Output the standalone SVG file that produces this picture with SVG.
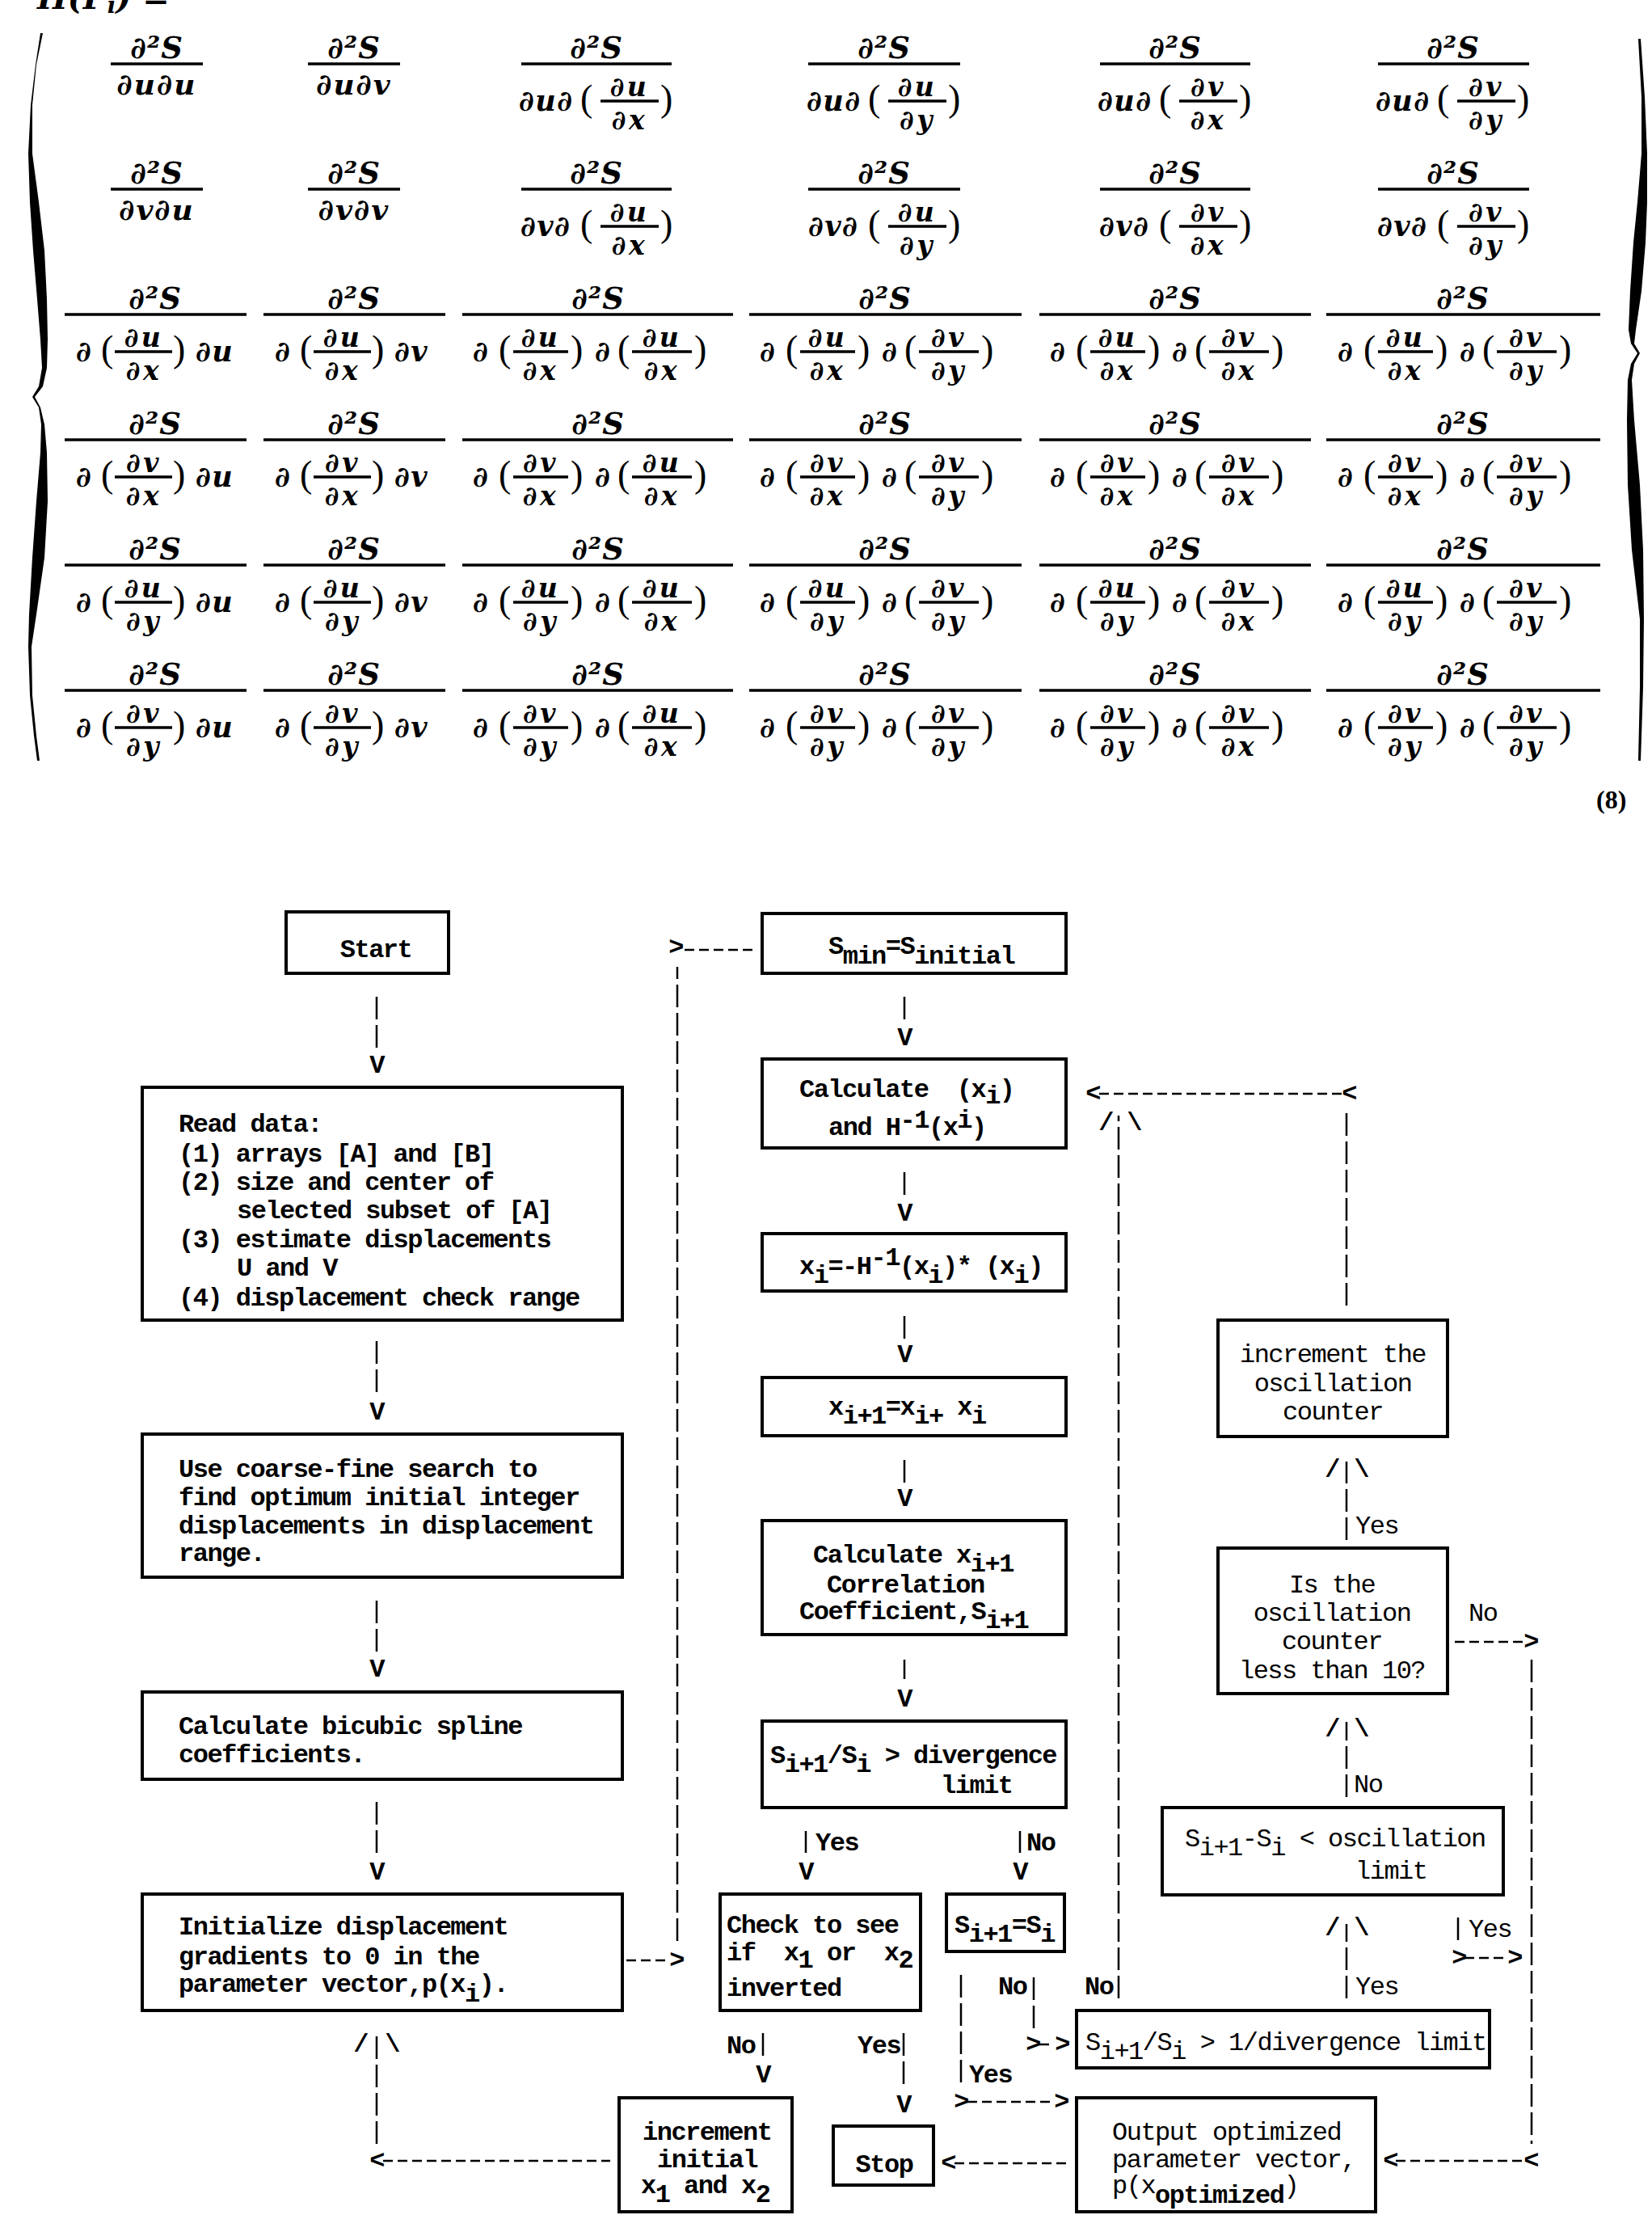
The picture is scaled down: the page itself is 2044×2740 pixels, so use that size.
<svg xmlns="http://www.w3.org/2000/svg" width="2044" height="2740" viewBox="0 0 2044 2740">
<style>
.n{font-family:"DejaVu Serif",serif;font-style:italic;font-weight:bold;font-size:37px;letter-spacing:1px;text-anchor:middle}
.d{font-family:"DejaVu Serif",serif;font-style:italic;font-weight:bold;font-size:35px;letter-spacing:1.5px}
.dm{font-family:"DejaVu Serif",serif;font-style:italic;font-weight:bold;font-size:36px;letter-spacing:2px;text-anchor:middle}
.i{font-family:"DejaVu Serif",serif;font-style:italic;font-weight:bold;font-size:33px;letter-spacing:3.5px;text-anchor:middle}
.p{font-family:"Liberation Serif",serif;font-style:normal;font-weight:normal;font-size:46px;letter-spacing:0}
.b{stroke:#000;stroke-width:3.5;fill:none}
.t{font-family:"Liberation Mono",monospace;font-size:32px;letter-spacing:-1.5px;font-weight:bold;fill:#000}
.tn{font-family:"Liberation Mono",monospace;font-size:32px;letter-spacing:-1.5px;font-weight:normal;fill:#000}
.c{text-anchor:middle}
.bx{fill:none;stroke:#000;stroke-width:4}
.dv{fill:none;stroke:#000;stroke-width:2.5;stroke-dasharray:28 7}
.dh{fill:none;stroke:#000;stroke-width:2.5;stroke-dasharray:12 6}
</style>
<rect x="0" y="0" width="2044" height="2740" fill="#fff"/>

<g id="matrix">
<text x="46" y="11" style="font-family:'DejaVu Serif',serif;font-style:italic;font-weight:bold;font-size:40px">H(P<tspan dy="5" font-size="28">i</tspan><tspan dy="-5">) =</tspan></text>
<path id="brace-left" fill="#000" d="M50 41 L44 80 L38 130 L35 190 L37 250 L41 310 L46 370 L50 420 L52 455 L48 478 L40 491 L48 504 L51 525 L50 560 L45 620 L40 690 L36 760 L35 800 L37 860 L42 910 L46 941 L49 941 L45 910 L40 860 L39 800 L45 760 L55 690 L59 620 L58 560 L55 525 L50 504 L43 491 L53 478 L58 455 L59 420 L58 370 L55 310 L48 250 L40 190 L40 130 L45 80 L53 41 Z"/>
<path id="brace-right" fill="#000" d="M2030 48 L2035 120 L2038 190 L2038 250 L2036 300 L2031 360 L2024 408 L2022 425 L2029 437 L2022 450 L2019 470 L2022 520 L2029 600 L2033 680 L2034 766 L2033 850 L2030 941 L2027 941 L2029 850 L2029 766 L2019 680 L2014 600 L2013 520 L2014 470 L2018 450 L2026 437 L2018 425 L2015 408 L2017 360 L2021 300 L2026 250 L2031 190 L2031 120 L2027 48 Z"/>
<text x="1975" y="1000" style="font-family:'Liberation Serif',serif;font-weight:bold;font-size:32px">(8)</text>

<g id="m11" transform="translate(194,79)"><path class="b" d="M-57 0H57"/><text class="n" y="-7">∂²S</text><text class="dm" y="38">∂u∂u</text></g>
<g id="m12" transform="translate(438,79)"><path class="b" d="M-57 0H57"/><text class="n" y="-7">∂²S</text><text class="dm" y="38">∂u∂v</text></g>
<g id="m13" transform="translate(738,79)"><path class="b" d="M-93 0H93M5 46H77"/><text class="n" y="-7">∂²S</text><text class="d" y="58"><tspan x="-96">∂u∂</tspan><tspan class="p" x="-20">(</tspan><tspan class="p" x="79">)</tspan></text><text class="i" x="41" y="40">∂u</text><text class="i" x="41" y="81">∂x</text></g>
<g id="m14" transform="translate(1094,79)"><path class="b" d="M-94 0H94M5 46H77"/><text class="n" y="-7">∂²S</text><text class="d" y="58"><tspan x="-96">∂u∂</tspan><tspan class="p" x="-20">(</tspan><tspan class="p" x="79">)</tspan></text><text class="i" x="41" y="40">∂u</text><text class="i" x="41" y="81">∂y</text></g>
<g id="m15" transform="translate(1454,79)"><path class="b" d="M-93 0H93M5 46H77"/><text class="n" y="-7">∂²S</text><text class="d" y="58"><tspan x="-96">∂u∂</tspan><tspan class="p" x="-20">(</tspan><tspan class="p" x="79">)</tspan></text><text class="i" x="41" y="40">∂v</text><text class="i" x="41" y="81">∂x</text></g>
<g id="m16" transform="translate(1798,79)"><path class="b" d="M-93 0H94M5 46H77"/><text class="n" y="-7">∂²S</text><text class="d" y="58"><tspan x="-96">∂u∂</tspan><tspan class="p" x="-20">(</tspan><tspan class="p" x="79">)</tspan></text><text class="i" x="41" y="40">∂v</text><text class="i" x="41" y="81">∂y</text></g>

<g id="m21" transform="translate(194,234)"><path class="b" d="M-57 0H57"/><text class="n" y="-7">∂²S</text><text class="dm" y="38">∂v∂u</text></g>
<g id="m22" transform="translate(438,234)"><path class="b" d="M-57 0H57"/><text class="n" y="-7">∂²S</text><text class="dm" y="38">∂v∂v</text></g>
<g id="m23" transform="translate(738,234)"><path class="b" d="M-93 0H93M5 46H77"/><text class="n" y="-7">∂²S</text><text class="d" y="58"><tspan x="-94">∂v∂</tspan><tspan class="p" x="-20">(</tspan><tspan class="p" x="79">)</tspan></text><text class="i" x="41" y="40">∂u</text><text class="i" x="41" y="81">∂x</text></g>
<g id="m24" transform="translate(1094,234)"><path class="b" d="M-94 0H94M5 46H77"/><text class="n" y="-7">∂²S</text><text class="d" y="58"><tspan x="-94">∂v∂</tspan><tspan class="p" x="-20">(</tspan><tspan class="p" x="79">)</tspan></text><text class="i" x="41" y="40">∂u</text><text class="i" x="41" y="81">∂y</text></g>
<g id="m25" transform="translate(1454,234)"><path class="b" d="M-93 0H93M5 46H77"/><text class="n" y="-7">∂²S</text><text class="d" y="58"><tspan x="-94">∂v∂</tspan><tspan class="p" x="-20">(</tspan><tspan class="p" x="79">)</tspan></text><text class="i" x="41" y="40">∂v</text><text class="i" x="41" y="81">∂x</text></g>
<g id="m26" transform="translate(1798,234)"><path class="b" d="M-93 0H94M5 46H77"/><text class="n" y="-7">∂²S</text><text class="d" y="58"><tspan x="-94">∂v∂</tspan><tspan class="p" x="-20">(</tspan><tspan class="p" x="79">)</tspan></text><text class="i" x="41" y="40">∂v</text><text class="i" x="41" y="81">∂y</text></g>

<g id="m31" transform="translate(192,389)"><path class="b" d="M-112 0H113M-50 46H21"/><text class="n" y="-7">∂²S</text><text class="d" y="58"><tspan x="-98">∂</tspan><tspan class="p" x="-67">(</tspan><tspan class="p" x="22">)</tspan><tspan x="50">∂u</tspan></text><text class="i" x="-14" y="40">∂u</text><text class="i" x="-14" y="81">∂x</text></g>
<g id="m32" transform="translate(438,389)"><path class="b" d="M-112 0H113M-50 46H21"/><text class="n" y="-7">∂²S</text><text class="d" y="58"><tspan x="-98">∂</tspan><tspan class="p" x="-67">(</tspan><tspan class="p" x="22">)</tspan><tspan x="50">∂v</tspan></text><text class="i" x="-14" y="40">∂u</text><text class="i" x="-14" y="81">∂x</text></g>
<g id="m33" transform="translate(740,389)"><path class="b" d="M-168 0H167M-105 46H-37M42 46H116"/><text class="n" y="-7">∂²S</text><text class="d" y="58"><tspan x="-155">∂</tspan><tspan class="p" x="-123">(</tspan><tspan class="p" x="-34">)</tspan><tspan x="-4">∂</tspan><tspan class="p" x="24">(</tspan><tspan class="p" x="119">)</tspan></text><text class="i" y="40"><tspan x="-71">∂u</tspan><tspan x="79">∂u</tspan></text><text class="i" y="81"><tspan x="-71">∂x</tspan><tspan x="79">∂x</tspan></text></g>
<g id="m34" transform="translate(1095,389)"><path class="b" d="M-168 0H169M-105 46H-37M42 46H116"/><text class="n" y="-7">∂²S</text><text class="d" y="58"><tspan x="-155">∂</tspan><tspan class="p" x="-123">(</tspan><tspan class="p" x="-34">)</tspan><tspan x="-4">∂</tspan><tspan class="p" x="24">(</tspan><tspan class="p" x="119">)</tspan></text><text class="i" y="40"><tspan x="-71">∂u</tspan><tspan x="79">∂v</tspan></text><text class="i" y="81"><tspan x="-71">∂x</tspan><tspan x="79">∂y</tspan></text></g>
<g id="m35" transform="translate(1454,389)"><path class="b" d="M-168 0H168M-105 46H-37M42 46H116"/><text class="n" y="-7">∂²S</text><text class="d" y="58"><tspan x="-155">∂</tspan><tspan class="p" x="-123">(</tspan><tspan class="p" x="-34">)</tspan><tspan x="-4">∂</tspan><tspan class="p" x="24">(</tspan><tspan class="p" x="119">)</tspan></text><text class="i" y="40"><tspan x="-71">∂u</tspan><tspan x="79">∂v</tspan></text><text class="i" y="81"><tspan x="-71">∂x</tspan><tspan x="79">∂x</tspan></text></g>
<g id="m36" transform="translate(1810,389)"><path class="b" d="M-169 0H170M-105 46H-37M42 46H116"/><text class="n" y="-7">∂²S</text><text class="d" y="58"><tspan x="-155">∂</tspan><tspan class="p" x="-123">(</tspan><tspan class="p" x="-34">)</tspan><tspan x="-4">∂</tspan><tspan class="p" x="24">(</tspan><tspan class="p" x="119">)</tspan></text><text class="i" y="40"><tspan x="-71">∂u</tspan><tspan x="79">∂v</tspan></text><text class="i" y="81"><tspan x="-71">∂x</tspan><tspan x="79">∂y</tspan></text></g>

<g id="m41" transform="translate(192,544)"><path class="b" d="M-112 0H113M-50 46H21"/><text class="n" y="-7">∂²S</text><text class="d" y="58"><tspan x="-98">∂</tspan><tspan class="p" x="-67">(</tspan><tspan class="p" x="22">)</tspan><tspan x="50">∂u</tspan></text><text class="i" x="-14" y="40">∂v</text><text class="i" x="-14" y="81">∂x</text></g>
<g id="m42" transform="translate(438,544)"><path class="b" d="M-112 0H113M-50 46H21"/><text class="n" y="-7">∂²S</text><text class="d" y="58"><tspan x="-98">∂</tspan><tspan class="p" x="-67">(</tspan><tspan class="p" x="22">)</tspan><tspan x="50">∂v</tspan></text><text class="i" x="-14" y="40">∂v</text><text class="i" x="-14" y="81">∂x</text></g>
<g id="m43" transform="translate(740,544)"><path class="b" d="M-168 0H167M-105 46H-37M42 46H116"/><text class="n" y="-7">∂²S</text><text class="d" y="58"><tspan x="-155">∂</tspan><tspan class="p" x="-123">(</tspan><tspan class="p" x="-34">)</tspan><tspan x="-4">∂</tspan><tspan class="p" x="24">(</tspan><tspan class="p" x="119">)</tspan></text><text class="i" y="40"><tspan x="-71">∂v</tspan><tspan x="79">∂u</tspan></text><text class="i" y="81"><tspan x="-71">∂x</tspan><tspan x="79">∂x</tspan></text></g>
<g id="m44" transform="translate(1095,544)"><path class="b" d="M-168 0H169M-105 46H-37M42 46H116"/><text class="n" y="-7">∂²S</text><text class="d" y="58"><tspan x="-155">∂</tspan><tspan class="p" x="-123">(</tspan><tspan class="p" x="-34">)</tspan><tspan x="-4">∂</tspan><tspan class="p" x="24">(</tspan><tspan class="p" x="119">)</tspan></text><text class="i" y="40"><tspan x="-71">∂v</tspan><tspan x="79">∂v</tspan></text><text class="i" y="81"><tspan x="-71">∂x</tspan><tspan x="79">∂y</tspan></text></g>
<g id="m45" transform="translate(1454,544)"><path class="b" d="M-168 0H168M-105 46H-37M42 46H116"/><text class="n" y="-7">∂²S</text><text class="d" y="58"><tspan x="-155">∂</tspan><tspan class="p" x="-123">(</tspan><tspan class="p" x="-34">)</tspan><tspan x="-4">∂</tspan><tspan class="p" x="24">(</tspan><tspan class="p" x="119">)</tspan></text><text class="i" y="40"><tspan x="-71">∂v</tspan><tspan x="79">∂v</tspan></text><text class="i" y="81"><tspan x="-71">∂x</tspan><tspan x="79">∂x</tspan></text></g>
<g id="m46" transform="translate(1810,544)"><path class="b" d="M-169 0H170M-105 46H-37M42 46H116"/><text class="n" y="-7">∂²S</text><text class="d" y="58"><tspan x="-155">∂</tspan><tspan class="p" x="-123">(</tspan><tspan class="p" x="-34">)</tspan><tspan x="-4">∂</tspan><tspan class="p" x="24">(</tspan><tspan class="p" x="119">)</tspan></text><text class="i" y="40"><tspan x="-71">∂v</tspan><tspan x="79">∂v</tspan></text><text class="i" y="81"><tspan x="-71">∂x</tspan><tspan x="79">∂y</tspan></text></g>

<g id="m51" transform="translate(192,699)"><path class="b" d="M-112 0H113M-50 46H21"/><text class="n" y="-7">∂²S</text><text class="d" y="58"><tspan x="-98">∂</tspan><tspan class="p" x="-67">(</tspan><tspan class="p" x="22">)</tspan><tspan x="50">∂u</tspan></text><text class="i" x="-14" y="40">∂u</text><text class="i" x="-14" y="81">∂y</text></g>
<g id="m52" transform="translate(438,699)"><path class="b" d="M-112 0H113M-50 46H21"/><text class="n" y="-7">∂²S</text><text class="d" y="58"><tspan x="-98">∂</tspan><tspan class="p" x="-67">(</tspan><tspan class="p" x="22">)</tspan><tspan x="50">∂v</tspan></text><text class="i" x="-14" y="40">∂u</text><text class="i" x="-14" y="81">∂y</text></g>
<g id="m53" transform="translate(740,699)"><path class="b" d="M-168 0H167M-105 46H-37M42 46H116"/><text class="n" y="-7">∂²S</text><text class="d" y="58"><tspan x="-155">∂</tspan><tspan class="p" x="-123">(</tspan><tspan class="p" x="-34">)</tspan><tspan x="-4">∂</tspan><tspan class="p" x="24">(</tspan><tspan class="p" x="119">)</tspan></text><text class="i" y="40"><tspan x="-71">∂u</tspan><tspan x="79">∂u</tspan></text><text class="i" y="81"><tspan x="-71">∂y</tspan><tspan x="79">∂x</tspan></text></g>
<g id="m54" transform="translate(1095,699)"><path class="b" d="M-168 0H169M-105 46H-37M42 46H116"/><text class="n" y="-7">∂²S</text><text class="d" y="58"><tspan x="-155">∂</tspan><tspan class="p" x="-123">(</tspan><tspan class="p" x="-34">)</tspan><tspan x="-4">∂</tspan><tspan class="p" x="24">(</tspan><tspan class="p" x="119">)</tspan></text><text class="i" y="40"><tspan x="-71">∂u</tspan><tspan x="79">∂v</tspan></text><text class="i" y="81"><tspan x="-71">∂y</tspan><tspan x="79">∂y</tspan></text></g>
<g id="m55" transform="translate(1454,699)"><path class="b" d="M-168 0H168M-105 46H-37M42 46H116"/><text class="n" y="-7">∂²S</text><text class="d" y="58"><tspan x="-155">∂</tspan><tspan class="p" x="-123">(</tspan><tspan class="p" x="-34">)</tspan><tspan x="-4">∂</tspan><tspan class="p" x="24">(</tspan><tspan class="p" x="119">)</tspan></text><text class="i" y="40"><tspan x="-71">∂u</tspan><tspan x="79">∂v</tspan></text><text class="i" y="81"><tspan x="-71">∂y</tspan><tspan x="79">∂x</tspan></text></g>
<g id="m56" transform="translate(1810,699)"><path class="b" d="M-169 0H170M-105 46H-37M42 46H116"/><text class="n" y="-7">∂²S</text><text class="d" y="58"><tspan x="-155">∂</tspan><tspan class="p" x="-123">(</tspan><tspan class="p" x="-34">)</tspan><tspan x="-4">∂</tspan><tspan class="p" x="24">(</tspan><tspan class="p" x="119">)</tspan></text><text class="i" y="40"><tspan x="-71">∂u</tspan><tspan x="79">∂v</tspan></text><text class="i" y="81"><tspan x="-71">∂y</tspan><tspan x="79">∂y</tspan></text></g>

<g id="m61" transform="translate(192,854)"><path class="b" d="M-112 0H113M-50 46H21"/><text class="n" y="-7">∂²S</text><text class="d" y="58"><tspan x="-98">∂</tspan><tspan class="p" x="-67">(</tspan><tspan class="p" x="22">)</tspan><tspan x="50">∂u</tspan></text><text class="i" x="-14" y="40">∂v</text><text class="i" x="-14" y="81">∂y</text></g>
<g id="m62" transform="translate(438,854)"><path class="b" d="M-112 0H113M-50 46H21"/><text class="n" y="-7">∂²S</text><text class="d" y="58"><tspan x="-98">∂</tspan><tspan class="p" x="-67">(</tspan><tspan class="p" x="22">)</tspan><tspan x="50">∂v</tspan></text><text class="i" x="-14" y="40">∂v</text><text class="i" x="-14" y="81">∂y</text></g>
<g id="m63" transform="translate(740,854)"><path class="b" d="M-168 0H167M-105 46H-37M42 46H116"/><text class="n" y="-7">∂²S</text><text class="d" y="58"><tspan x="-155">∂</tspan><tspan class="p" x="-123">(</tspan><tspan class="p" x="-34">)</tspan><tspan x="-4">∂</tspan><tspan class="p" x="24">(</tspan><tspan class="p" x="119">)</tspan></text><text class="i" y="40"><tspan x="-71">∂v</tspan><tspan x="79">∂u</tspan></text><text class="i" y="81"><tspan x="-71">∂y</tspan><tspan x="79">∂x</tspan></text></g>
<g id="m64" transform="translate(1095,854)"><path class="b" d="M-168 0H169M-105 46H-37M42 46H116"/><text class="n" y="-7">∂²S</text><text class="d" y="58"><tspan x="-155">∂</tspan><tspan class="p" x="-123">(</tspan><tspan class="p" x="-34">)</tspan><tspan x="-4">∂</tspan><tspan class="p" x="24">(</tspan><tspan class="p" x="119">)</tspan></text><text class="i" y="40"><tspan x="-71">∂v</tspan><tspan x="79">∂v</tspan></text><text class="i" y="81"><tspan x="-71">∂y</tspan><tspan x="79">∂y</tspan></text></g>
<g id="m65" transform="translate(1454,854)"><path class="b" d="M-168 0H168M-105 46H-37M42 46H116"/><text class="n" y="-7">∂²S</text><text class="d" y="58"><tspan x="-155">∂</tspan><tspan class="p" x="-123">(</tspan><tspan class="p" x="-34">)</tspan><tspan x="-4">∂</tspan><tspan class="p" x="24">(</tspan><tspan class="p" x="119">)</tspan></text><text class="i" y="40"><tspan x="-71">∂v</tspan><tspan x="79">∂v</tspan></text><text class="i" y="81"><tspan x="-71">∂y</tspan><tspan x="79">∂x</tspan></text></g>
<g id="m66" transform="translate(1810,854)"><path class="b" d="M-169 0H170M-105 46H-37M42 46H116"/><text class="n" y="-7">∂²S</text><text class="d" y="58"><tspan x="-155">∂</tspan><tspan class="p" x="-123">(</tspan><tspan class="p" x="-34">)</tspan><tspan x="-4">∂</tspan><tspan class="p" x="24">(</tspan><tspan class="p" x="119">)</tspan></text><text class="i" y="40"><tspan x="-71">∂v</tspan><tspan x="79">∂v</tspan></text><text class="i" y="81"><tspan x="-71">∂y</tspan><tspan x="79">∂y</tspan></text></g>
</g>

<g id="n-start"><rect class="bx" x="354" y="1128" width="201" height="76"/><text class="t c" x="465" y="1184">Start</text></g>
<g id="n-read"><rect class="bx" x="176" y="1345" width="594" height="288"/>
<text class="t" x="221" y="1400">Read data:</text>
<text class="t" x="221" y="1437">(1) arrays [A] and [B]</text>
<text class="t" x="221" y="1472">(2) size and center of</text>
<text class="t" x="293" y="1507">selected subset of [A]</text>
<text class="t" x="221" y="1543">(3) estimate displacements</text>
<text class="t" x="293" y="1578">U and V</text>
<text class="t" x="221" y="1615">(4) displacement check range</text></g>
<g id="n-coarse"><rect class="bx" x="176" y="1774" width="594" height="177"/>
<text class="t" x="221" y="1827">Use coarse-fine search to</text>
<text class="t" x="221" y="1862">find optimum initial integer</text>
<text class="t" x="221" y="1897">displacements in displacement</text>
<text class="t" x="221" y="1931">range.</text></g>
<g id="n-bicubic"><rect class="bx" x="176" y="2093" width="594" height="108"/>
<text class="t" x="221" y="2145">Calculate bicubic spline</text>
<text class="t" x="221" y="2180">coefficients.</text></g>
<g id="n-init"><rect class="bx" x="176" y="2343" width="594" height="144"/>
<text class="t" x="221" y="2393">Initialize displacement</text>
<text class="t" x="221" y="2430">gradients to 0 in the</text>
<text class="t" x="221" y="2464">parameter vector,p(x<tspan dy="12">i</tspan><tspan dy="-12">).</tspan></text></g>

<g id="n-smin"><rect class="bx" x="943" y="1130" width="376" height="74"/><text class="t" x="1025" y="1180">S<tspan dy="12">min</tspan><tspan dy="-12">=S</tspan><tspan dy="12">initial</tspan></text></g>
<g id="n-calc"><rect class="bx" x="943" y="1310" width="376" height="110"/>
<text class="t" x="989" y="1357" xml:space="preserve">Calculate  (x<tspan dy="8">i</tspan><tspan dy="-8">)</tspan></text>
<text class="t" x="1025" y="1404">and H<tspan dy="-9">-1</tspan><tspan dy="9">(x</tspan><tspan dy="-9">i</tspan><tspan dy="9">)</tspan></text></g>
<g id="n-dx"><rect class="bx" x="943" y="1526" width="376" height="71"/>
<text class="t" x="989" y="1576">x<tspan dy="11">i</tspan><tspan dy="-11">=-H</tspan><tspan dy="-11">-1</tspan><tspan dy="11">(x</tspan><tspan dy="11">i</tspan><tspan dy="-11">)* (x</tspan><tspan dy="11">i</tspan><tspan dy="-11">)</tspan></text></g>
<g id="n-xnext"><rect class="bx" x="943" y="1704" width="376" height="72"/>
<text class="t" x="1025" y="1750">x<tspan dy="11">i+1</tspan><tspan dy="-11">=x</tspan><tspan dy="11">i+</tspan><tspan dy="-11"> x</tspan><tspan dy="11">i</tspan></text></g>
<g id="n-corr"><rect class="bx" x="943" y="1881" width="376" height="141"/>
<text class="t" x="1006" y="1933">Calculate x<tspan dy="11">i+1</tspan></text>
<text class="t" x="1023" y="1970">Correlation</text>
<text class="t" x="989" y="2003">Coefficient,S<tspan dy="11">i+1</tspan></text></g>
<g id="n-div"><rect class="bx" x="943" y="2129" width="376" height="107"/>
<text class="t" x="953" y="2181">S<tspan dy="11">i+1</tspan><tspan dy="-11">/S</tspan><tspan dy="11">i</tspan><tspan dy="-11"> &gt; divergence</tspan></text>
<text class="t" x="1164" y="2218">limit</text></g>
<g id="n-check"><rect class="bx" x="891" y="2343" width="248" height="144"/>
<text class="t" x="899" y="2391">Check to see</text>
<text class="t" x="899" y="2425" xml:space="preserve">if  x<tspan dy="9">1</tspan><tspan dy="-9"> or  x</tspan><tspan dy="9">2</tspan></text>
<text class="t" x="899" y="2469">inverted</text></g>
<g id="n-seq"><rect class="bx" x="1171" y="2343" width="146" height="71"/>
<text class="t" x="1181" y="2391">S<tspan dy="11">i+1</tspan><tspan dy="-11">=S</tspan><tspan dy="11">i</tspan></text></g>
<g id="n-incinit"><rect class="bx" x="766" y="2595" width="214" height="141"/>
<text class="t" x="795" y="2647">increment</text>
<text class="t" x="813" y="2681">initial</text>
<text class="t" x="793" y="2713">x<tspan dy="11">1</tspan><tspan dy="-11"> and x</tspan><tspan dy="11">2</tspan></text></g>
<g id="n-stop"><rect class="bx" x="1031" y="2630" width="124" height="73"/><text class="t c" x="1094" y="2687">Stop</text></g>

<g id="n-incosc"><rect class="bx" x="1507" y="1633" width="284" height="144"/>
<text class="tn c" x="1649" y="1685">increment the</text>
<text class="tn c" x="1649" y="1721">oscillation</text>
<text class="tn c" x="1649" y="1756">counter</text></g>
<g id="n-isthe"><rect class="bx" x="1507" y="1915" width="284" height="180"/>
<text class="tn c" x="1648" y="1970">Is the</text>
<text class="tn c" x="1648" y="2005">oscillation</text>
<text class="tn c" x="1648" y="2040">counter</text>
<text class="tn c" x="1648" y="2076">less than 10?</text></g>
<g id="n-osc"><rect class="bx" x="1438" y="2236" width="422" height="108"/>
<text class="tn" x="1466" y="2284">S<tspan dy="11">i+1</tspan><tspan dy="-11">-S</tspan><tspan dy="11">i</tspan><tspan dy="-11"> &lt; oscillation</tspan></text>
<text class="tn" x="1677" y="2324">limit</text></g>
<g id="n-div1"><rect class="bx" x="1332" y="2487" width="511" height="71"/>
<text class="tn" x="1343" y="2536">S<tspan dy="11">i+1</tspan><tspan dy="-11">/S</tspan><tspan dy="11">i</tspan><tspan dy="-11"> &gt; 1/divergence limit</tspan></text></g>
<g id="n-output"><rect class="bx" x="1332" y="2595" width="370" height="141"/>
<text class="tn" x="1376" y="2647">Output optimized</text>
<text class="tn" x="1376" y="2681">parameter vector,</text>
<text class="tn" x="1376" y="2713">p(x<tspan dy="12" font-weight="bold">optimized</tspan><tspan dy="-12">)</tspan></text></g>

<g id="connectors">
<path class="dv" d="M466 1233V1296M466 1659V1725M466 1980V2043M466 2229V2292M838 2401V1196M1119 1233V1262M1119 1450V1479M1119 1628V1657M1119 1806V1834M1119 2053V2077M997 2265V2292M1262 2265V2292M944 2515V2545M1118 2515V2580M1189 2443V2582M1279 2446V2510M1384 2472V1380M1666 1377V1620M1666 2472V2380M1666 2223V2130M1666 1905V1808M1895 2053V2652M1804 2372V2401M466 2652V2518"/>
<path class="dh" d="M775 2425H827M847 1175H932M1197 2600H1305M1286 2529H1300M1360 1353H1660M1800 2031H1884M1727 2673H1886M1812 2422H1866M1181 2676H1322M474 2673H755"/>
<g class="t c">
<text x="466" y="1327">V</text><text x="466" y="1756">V</text><text x="466" y="2074">V</text><text x="466" y="2325">V</text>
<text x="1119" y="1293">V</text><text x="1119" y="1510">V</text><text x="1119" y="1685">V</text><text x="1119" y="1863">V</text><text x="1119" y="2111">V</text>
<text x="997" y="2325">V</text><text x="1262" y="2325">V</text><text x="944" y="2576">V</text><text x="1118" y="2613">V</text>
<text x="837" y="2434">&gt;</text><text x="836" y="1181">&gt;</text><text x="1189" y="2609">&gt;</text><text x="1313" y="2609">&gt;</text>
<text x="1278" y="2538">&gt;</text><text x="1314" y="2538">&gt;</text><text x="1894" y="2040">&gt;</text><text x="1805" y="2431">&gt;</text><text x="1874" y="2431">&gt;</text>
<text x="1352" y="1362">&lt;</text><text x="1669" y="1362">&lt;</text><text x="1894" y="2682">&lt;</text><text x="1720" y="2682">&lt;</text><text x="1173" y="2685">&lt;</text><text x="466" y="2682">&lt;</text>
<text x="446" y="2538">/</text><text x="485" y="2538">\</text>
<text x="1368" y="1398">/</text><text x="1403" y="1398">\</text>
<text x="1648" y="1827">/</text><text x="1684" y="1827">\</text>
<text x="1648" y="2148">/</text><text x="1684" y="2148">\</text>
<text x="1648" y="2394">/</text><text x="1684" y="2394">\</text>
</g>
<text class="t" x="1009" y="2289">Yes</text>
<text class="t" x="1270" y="2289">No</text>
<text class="t" x="899" y="2540">No</text>
<text class="t" x="1061" y="2540">Yes</text>
<text class="t" x="1199" y="2576">Yes</text>
<text class="t" x="1235" y="2467">No</text>
<text class="t" x="1342" y="2467">No</text>
<text class="tn" x="1677" y="2467">Yes</text>
<text class="tn" x="1675" y="2217">No</text>
<text class="tn" x="1677" y="1897">Yes</text>
<text class="tn" x="1817" y="2005">No</text>
<text class="tn" x="1817" y="2396">Yes</text>
</g>
</svg>
